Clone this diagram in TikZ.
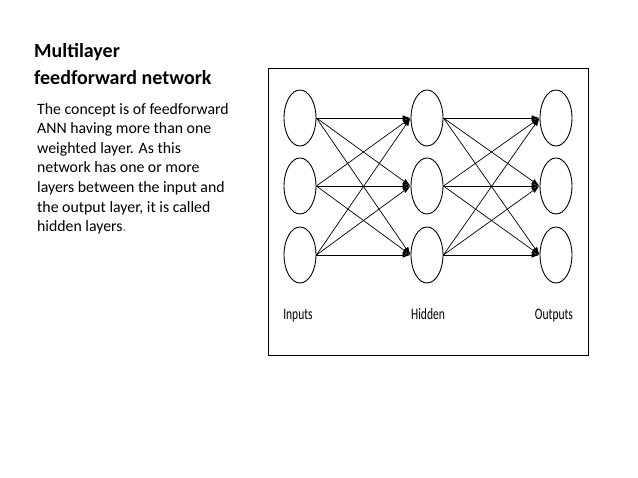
\documentclass[tikz,border=0pt]{standalone}
\usepackage{fontspec}
\setmainfont{Carlito}
\usetikzlibrary{arrows.meta,shapes.geometric}
\begin{document}
\begin{tikzpicture}[x=1pt,y=-1pt,
  neuron/.style={draw,ellipse,minimum width=32pt,minimum height=56pt,inner sep=0pt,line width=0.9pt},
  link/.style={line width=0.7pt,-{Latex[length=8pt,width=5.5pt]}},
  lab/.style={font=\fontsize{16}{18}\selectfont,xscale=0.72,anchor=base}]
\useasboundingbox (0,0) rectangle (638,478);
\node[anchor=west,font=\fontsize{20}{27}\bfseries\selectfont,align=left,inner sep=0pt] (title) at (34,64) {Multilayer\\feedforward network};
\node[anchor=north west,font=\fontsize{15.8}{19.6}\selectfont,align=left,inner sep=0pt] (txt) at (37,103)
 {The concept is of feedforward\\ANN having more than one\\weighted layer. As this\\network has one or more\\layers between the input and\\the output layer, it is called\\hidden layers{\color{gray}.}};
\node[draw,line width=0.9pt,minimum width=320pt,minimum height=287pt,anchor=north west] (frame) at (268,68) {};
\foreach \i/\y in {1/118,2/186,3/255}{
  \node[neuron] (i\i) at (300,\y) {};
  \node[neuron] (h\i) at (427,\y) {};
  \node[neuron] (o\i) at (556,\y) {};
}
\foreach \a in {1,2,3}{\foreach \b in {1,2,3}{
  \draw[link] (i\a.east) -- (h\b.west);
  \draw[link] (h\a.east) -- (o\b.west);
}}
\node[lab] (li) at (298,320) {Inputs};
\node[lab] (lh) at (428,320) {Hidden};
\node[lab] (lo) at (554,320) {Outputs};
\end{tikzpicture}
\end{document}
